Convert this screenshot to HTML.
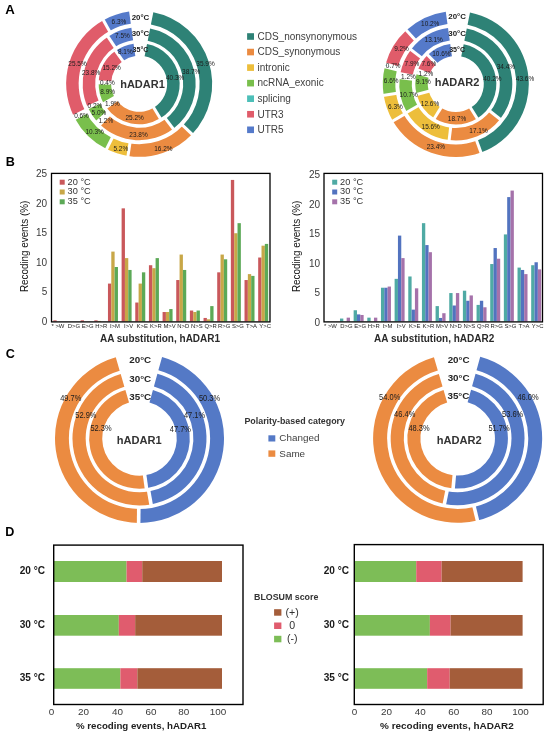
<!DOCTYPE html>
<html><head><meta charset="utf-8"><title>Figure</title>
<style>html,body{margin:0;padding:0;background:#fff;}svg{display:block;}</style></head>
<body><svg width="550" height="736" viewBox="0 0 550 736">
<rect width="550" height="736" fill="#fff"/>
<text x="5.30" y="13.80" font-size="13.2" font-weight="bold" text-anchor="start" fill="#000" font-family="'Liberation Sans', Arial, sans-serif" >A</text>
<text x="5.70" y="166.30" font-size="12.6" font-weight="bold" text-anchor="start" fill="#000" font-family="'Liberation Sans', Arial, sans-serif" >B</text>
<text x="5.80" y="357.90" font-size="12.6" font-weight="bold" text-anchor="start" fill="#000" font-family="'Liberation Sans', Arial, sans-serif" >C</text>
<text x="5.30" y="536.20" font-size="12.6" font-weight="bold" text-anchor="start" fill="#000" font-family="'Liberation Sans', Arial, sans-serif" >D</text>
<path d="M153.33,12.19A73,73 0 0 1 192.03,134.13L182.97,125.51A60.5,60.5 0 0 0 150.90,24.45Z" fill="#2E8276"/>
<path d="M192.03,134.13A73,73 0 0 1 127.97,155.94L129.89,143.59A60.5,60.5 0 0 0 182.97,125.51Z" fill="#EB8B41"/>
<path d="M127.97,155.94A73,73 0 0 1 106.54,149.11L112.12,137.93A60.5,60.5 0 0 0 129.89,143.59Z" fill="#EDBE3B"/>
<path d="M106.54,149.11A73,73 0 0 1 74.91,118.47L85.91,112.53A60.5,60.5 0 0 0 112.12,137.93Z" fill="#79BF4C"/>
<path d="M74.91,118.47A73,73 0 0 1 73.71,116.15L84.92,110.61A60.5,60.5 0 0 0 85.91,112.53Z" fill="#4DBFB8"/>
<path d="M73.71,116.15A73,73 0 0 1 103.34,20.19L109.47,31.08A60.5,60.5 0 0 0 84.92,110.61Z" fill="#E05C6A"/>
<path d="M103.34,20.19A73,73 0 0 1 129.12,11.49L130.83,23.87A60.5,60.5 0 0 0 109.47,31.08Z" fill="#557ACA"/>
<line x1="182.25" y1="124.82" x2="192.75" y2="134.82" stroke="#fff" stroke-width="3.0"/>
<line x1="130.04" y1="142.60" x2="127.82" y2="156.93" stroke="#fff" stroke-width="3.0"/>
<line x1="112.57" y1="137.03" x2="106.09" y2="150.00" stroke="#fff" stroke-width="3.0"/>
<line x1="86.79" y1="112.06" x2="74.03" y2="118.94" stroke="#fff" stroke-width="3.0"/>
<line x1="85.81" y1="110.17" x2="72.81" y2="116.59" stroke="#fff" stroke-width="3.0"/>
<line x1="109.96" y1="31.95" x2="102.85" y2="19.32" stroke="#fff" stroke-width="3.0"/>
<path d="M150.12,28.38A56.5,56.5 0 0 1 173.26,128.84L165.71,118.88A44,44 0 0 0 147.70,40.64Z" fill="#2E8276"/>
<path d="M173.26,128.84A56.5,56.5 0 0 1 100.02,124.55L108.68,115.54A44,44 0 0 0 165.71,118.88Z" fill="#EB8B41"/>
<path d="M97.22,121.66A56.5,56.5 0 0 1 87.97,107.74L99.29,102.44A44,44 0 0 0 106.49,113.29Z" fill="#79BF4C"/>
<path d="M87.97,107.74A56.5,56.5 0 0 1 87.69,107.13L99.08,101.97A44,44 0 0 0 99.29,102.44Z" fill="#4DBFB8"/>
<path d="M87.69,107.13A56.5,56.5 0 0 1 108.03,36.64L114.92,47.07A44,44 0 0 0 99.08,101.97Z" fill="#E05C6A"/>
<path d="M108.03,36.64A56.5,56.5 0 0 1 131.38,27.84L133.10,40.22A44,44 0 0 0 114.92,47.07Z" fill="#557ACA"/>
<line x1="165.11" y1="118.08" x2="173.86" y2="129.64" stroke="#fff" stroke-width="3.0"/>
<line x1="109.37" y1="114.82" x2="99.32" y2="125.28" stroke="#fff" stroke-width="3.0"/>
<line x1="107.24" y1="112.62" x2="96.47" y2="122.33" stroke="#fff" stroke-width="3.0"/>
<line x1="100.20" y1="102.02" x2="87.07" y2="108.16" stroke="#fff" stroke-width="3.0"/>
<line x1="99.99" y1="101.56" x2="86.78" y2="107.54" stroke="#fff" stroke-width="3.0"/>
<line x1="115.47" y1="47.91" x2="107.48" y2="35.81" stroke="#fff" stroke-width="3.0"/>
<path d="M147.02,44.07A40.5,40.5 0 0 1 160.26,118.36L153.75,107.70A28,28 0 0 0 144.59,56.33Z" fill="#2E8276"/>
<path d="M160.26,118.36A40.5,40.5 0 0 1 106.18,107.32L116.36,100.06A28,28 0 0 0 153.75,107.70Z" fill="#EB8B41"/>
<path d="M103.74,103.46A40.5,40.5 0 0 1 98.66,82.88L111.16,83.16A28,28 0 0 0 114.67,97.39Z" fill="#79BF4C"/>
<path d="M98.66,82.88A40.5,40.5 0 0 1 98.69,81.91L111.18,82.50A28,28 0 0 0 111.16,83.16Z" fill="#4DBFB8"/>
<path d="M98.69,81.91A40.5,40.5 0 0 1 115.62,50.83L122.89,61.01A28,28 0 0 0 111.18,82.50Z" fill="#E05C6A"/>
<path d="M115.62,50.83A40.5,40.5 0 0 1 133.58,43.68L135.30,56.07A28,28 0 0 0 122.89,61.01Z" fill="#557ACA"/>
<line x1="153.22" y1="106.84" x2="160.78" y2="119.22" stroke="#fff" stroke-width="3.0"/>
<line x1="117.17" y1="99.48" x2="105.37" y2="107.91" stroke="#fff" stroke-width="3.0"/>
<line x1="115.54" y1="96.90" x2="102.87" y2="103.94" stroke="#fff" stroke-width="3.0"/>
<line x1="112.16" y1="83.18" x2="97.66" y2="82.85" stroke="#fff" stroke-width="3.0"/>
<line x1="112.18" y1="82.54" x2="97.70" y2="81.87" stroke="#fff" stroke-width="3.0"/>
<line x1="123.47" y1="61.82" x2="115.04" y2="50.02" stroke="#fff" stroke-width="3.0"/>
<text transform="translate(205.50,65.90) scale(0.85,1)" font-size="7.6" font-weight="normal" text-anchor="middle" fill="#1c1c1c" font-family="'Liberation Sans', Arial, sans-serif">35.9%</text>
<text transform="translate(163.30,151.20) scale(0.85,1)" font-size="7.6" font-weight="normal" text-anchor="middle" fill="#1c1c1c" font-family="'Liberation Sans', Arial, sans-serif">16.2%</text>
<text transform="translate(120.80,150.50) scale(0.85,1)" font-size="7.6" font-weight="normal" text-anchor="middle" fill="#1c1c1c" font-family="'Liberation Sans', Arial, sans-serif">5.2%</text>
<text transform="translate(94.60,134.10) scale(0.85,1)" font-size="7.6" font-weight="normal" text-anchor="middle" fill="#1c1c1c" font-family="'Liberation Sans', Arial, sans-serif">10.3%</text>
<text transform="translate(81.50,117.70) scale(0.85,1)" font-size="7.6" font-weight="normal" text-anchor="middle" fill="#1c1c1c" font-family="'Liberation Sans', Arial, sans-serif">0.6%</text>
<text transform="translate(77.50,66.30) scale(0.85,1)" font-size="7.6" font-weight="normal" text-anchor="middle" fill="#1c1c1c" font-family="'Liberation Sans', Arial, sans-serif">25.5%</text>
<text transform="translate(118.90,23.50) scale(0.85,1)" font-size="7.6" font-weight="normal" text-anchor="middle" fill="#1c1c1c" font-family="'Liberation Sans', Arial, sans-serif">6.3%</text>
<text transform="translate(191.20,74.00) scale(0.85,1)" font-size="7.6" font-weight="normal" text-anchor="middle" fill="#1c1c1c" font-family="'Liberation Sans', Arial, sans-serif">38.7%</text>
<text transform="translate(138.50,137.10) scale(0.85,1)" font-size="7.6" font-weight="normal" text-anchor="middle" fill="#1c1c1c" font-family="'Liberation Sans', Arial, sans-serif">23.8%</text>
<text transform="translate(105.80,122.90) scale(0.85,1)" font-size="7.6" font-weight="normal" text-anchor="middle" fill="#1c1c1c" font-family="'Liberation Sans', Arial, sans-serif">1.2%</text>
<text transform="translate(98.90,114.90) scale(0.85,1)" font-size="7.6" font-weight="normal" text-anchor="middle" fill="#1c1c1c" font-family="'Liberation Sans', Arial, sans-serif">5.0%</text>
<text transform="translate(94.90,108.00) scale(0.85,1)" font-size="7.6" font-weight="normal" text-anchor="middle" fill="#1c1c1c" font-family="'Liberation Sans', Arial, sans-serif">0.2%</text>
<text transform="translate(91.10,74.70) scale(0.85,1)" font-size="7.6" font-weight="normal" text-anchor="middle" fill="#1c1c1c" font-family="'Liberation Sans', Arial, sans-serif">23.8%</text>
<text transform="translate(122.40,38.20) scale(0.85,1)" font-size="7.6" font-weight="normal" text-anchor="middle" fill="#1c1c1c" font-family="'Liberation Sans', Arial, sans-serif">7.5%</text>
<text transform="translate(175.10,79.50) scale(0.85,1)" font-size="7.6" font-weight="normal" text-anchor="middle" fill="#1c1c1c" font-family="'Liberation Sans', Arial, sans-serif">40.3%</text>
<text transform="translate(134.60,120.30) scale(0.85,1)" font-size="7.6" font-weight="normal" text-anchor="middle" fill="#1c1c1c" font-family="'Liberation Sans', Arial, sans-serif">25.2%</text>
<text transform="translate(112.40,105.80) scale(0.85,1)" font-size="7.6" font-weight="normal" text-anchor="middle" fill="#1c1c1c" font-family="'Liberation Sans', Arial, sans-serif">1.9%</text>
<text transform="translate(107.60,94.00) scale(0.85,1)" font-size="7.6" font-weight="normal" text-anchor="middle" fill="#1c1c1c" font-family="'Liberation Sans', Arial, sans-serif">8.9%</text>
<text transform="translate(107.30,85.40) scale(0.85,1)" font-size="7.6" font-weight="normal" text-anchor="middle" fill="#1c1c1c" font-family="'Liberation Sans', Arial, sans-serif">0.4%</text>
<text transform="translate(111.60,70.00) scale(0.85,1)" font-size="7.6" font-weight="normal" text-anchor="middle" fill="#1c1c1c" font-family="'Liberation Sans', Arial, sans-serif">15.2%</text>
<text transform="translate(125.30,54.40) scale(0.85,1)" font-size="7.6" font-weight="normal" text-anchor="middle" fill="#1c1c1c" font-family="'Liberation Sans', Arial, sans-serif">8.1%</text>
<text x="142.50" y="87.60" font-size="11" font-weight="bold" text-anchor="middle" fill="#333" font-family="'Liberation Sans', Arial, sans-serif" >hADAR1</text>
<text x="140.45" y="19.70" font-size="7.9" font-weight="bold" text-anchor="middle" fill="#222" font-family="'Liberation Sans', Arial, sans-serif" >20°C</text>
<text x="140.45" y="36.10" font-size="7.9" font-weight="bold" text-anchor="middle" fill="#222" font-family="'Liberation Sans', Arial, sans-serif" >30°C</text>
<text x="140.45" y="51.90" font-size="7.1" font-weight="bold" text-anchor="middle" fill="#222" font-family="'Liberation Sans', Arial, sans-serif" >35°C</text>
<path d="M469.98,12.39A73,73 0 0 1 480.97,152.52L476.66,140.79A60.5,60.5 0 0 0 467.55,24.65Z" fill="#2E8276"/>
<path d="M480.97,152.52A73,73 0 0 1 392.83,120.94L403.62,114.61A60.5,60.5 0 0 0 476.66,140.79Z" fill="#EB8B41"/>
<path d="M392.83,120.94A73,73 0 0 1 383.68,95.32L396.03,93.38A60.5,60.5 0 0 0 403.62,114.61Z" fill="#EDBE3B"/>
<path d="M383.68,95.32A73,73 0 0 1 384.84,66.86L396.99,69.80A60.5,60.5 0 0 0 396.03,93.38Z" fill="#79BF4C"/>
<path d="M384.84,66.86A73,73 0 0 1 385.62,63.92L397.63,67.36A60.5,60.5 0 0 0 396.99,69.80Z" fill="#4DBFB8"/>
<path d="M385.62,63.92A73,73 0 0 1 406.32,30.33L414.79,39.52A60.5,60.5 0 0 0 397.63,67.36Z" fill="#E05C6A"/>
<path d="M406.32,30.33A73,73 0 0 1 445.77,11.69L447.48,24.07A60.5,60.5 0 0 0 414.79,39.52Z" fill="#557ACA"/>
<line x1="476.31" y1="139.85" x2="481.31" y2="153.46" stroke="#fff" stroke-width="3.0"/>
<line x1="404.48" y1="114.11" x2="391.97" y2="121.44" stroke="#fff" stroke-width="3.0"/>
<line x1="397.02" y1="93.23" x2="382.70" y2="95.47" stroke="#fff" stroke-width="3.0"/>
<line x1="397.96" y1="70.03" x2="383.87" y2="66.63" stroke="#fff" stroke-width="3.0"/>
<line x1="398.60" y1="67.63" x2="384.65" y2="63.65" stroke="#fff" stroke-width="3.0"/>
<line x1="415.47" y1="40.25" x2="405.64" y2="29.59" stroke="#fff" stroke-width="3.0"/>
<path d="M466.77,28.58A56.5,56.5 0 0 1 500.04,119.15L490.25,111.37A44,44 0 0 0 464.35,40.84Z" fill="#2E8276"/>
<path d="M500.04,119.15A56.5,56.5 0 0 1 449.15,140.11L450.62,127.69A44,44 0 0 0 490.25,111.37Z" fill="#EB8B41"/>
<path d="M449.15,140.11A56.5,56.5 0 0 1 406.90,112.30L417.72,106.04A44,44 0 0 0 450.62,127.69Z" fill="#EDBE3B"/>
<path d="M406.90,112.30A56.5,56.5 0 0 1 399.65,77.68L412.08,79.08A44,44 0 0 0 417.72,106.04Z" fill="#79BF4C"/>
<path d="M400.25,73.69A56.5,56.5 0 0 1 410.94,49.65L420.87,57.25A44,44 0 0 0 412.54,75.97Z" fill="#E05C6A"/>
<path d="M410.94,49.65A56.5,56.5 0 0 1 448.03,28.04L449.75,40.42A44,44 0 0 0 420.87,57.25Z" fill="#557ACA"/>
<line x1="489.47" y1="110.75" x2="500.82" y2="119.77" stroke="#fff" stroke-width="3.0"/>
<line x1="450.74" y1="126.70" x2="449.03" y2="141.10" stroke="#fff" stroke-width="3.0"/>
<line x1="418.58" y1="105.54" x2="406.03" y2="112.80" stroke="#fff" stroke-width="3.0"/>
<line x1="413.07" y1="79.19" x2="398.66" y2="77.57" stroke="#fff" stroke-width="3.0"/>
<line x1="413.52" y1="76.16" x2="399.26" y2="73.51" stroke="#fff" stroke-width="3.0"/>
<line x1="421.66" y1="57.86" x2="410.15" y2="49.04" stroke="#fff" stroke-width="3.0"/>
<path d="M463.67,44.27A40.5,40.5 0 0 1 477.12,118.44L470.54,107.81A28,28 0 0 0 461.24,56.53Z" fill="#2E8276"/>
<path d="M477.12,118.44A40.5,40.5 0 0 1 434.34,118.35L440.97,107.75A28,28 0 0 0 470.54,107.81Z" fill="#EB8B41"/>
<path d="M434.34,118.35A40.5,40.5 0 0 1 416.69,94.52L428.76,91.27A28,28 0 0 0 440.97,107.75Z" fill="#EDBE3B"/>
<path d="M416.69,94.52A40.5,40.5 0 0 1 416.86,72.86L428.88,76.30A28,28 0 0 0 428.76,91.27Z" fill="#79BF4C"/>
<path d="M416.86,72.86A40.5,40.5 0 0 1 417.76,70.11L429.50,74.40A28,28 0 0 0 428.88,76.30Z" fill="#4DBFB8"/>
<path d="M417.76,70.11A40.5,40.5 0 0 1 427.65,54.88L436.34,63.87A28,28 0 0 0 429.50,74.40Z" fill="#E05C6A"/>
<path d="M427.65,54.88A40.5,40.5 0 0 1 450.23,43.88L451.95,56.27A28,28 0 0 0 436.34,63.87Z" fill="#557ACA"/>
<line x1="470.01" y1="106.96" x2="477.64" y2="119.29" stroke="#fff" stroke-width="3.0"/>
<line x1="441.50" y1="106.90" x2="433.81" y2="119.20" stroke="#fff" stroke-width="3.0"/>
<line x1="429.73" y1="91.01" x2="415.72" y2="94.78" stroke="#fff" stroke-width="3.0"/>
<line x1="429.84" y1="76.57" x2="415.90" y2="72.59" stroke="#fff" stroke-width="3.0"/>
<line x1="430.44" y1="74.74" x2="416.82" y2="69.77" stroke="#fff" stroke-width="3.0"/>
<line x1="437.03" y1="64.59" x2="426.95" y2="54.17" stroke="#fff" stroke-width="3.0"/>
<text transform="translate(525.00,80.70) scale(0.85,1)" font-size="7.6" font-weight="normal" text-anchor="middle" fill="#1c1c1c" font-family="'Liberation Sans', Arial, sans-serif">43.6%</text>
<text transform="translate(435.80,149.10) scale(0.85,1)" font-size="7.6" font-weight="normal" text-anchor="middle" fill="#1c1c1c" font-family="'Liberation Sans', Arial, sans-serif">23.4%</text>
<text transform="translate(395.40,109.30) scale(0.85,1)" font-size="7.6" font-weight="normal" text-anchor="middle" fill="#1c1c1c" font-family="'Liberation Sans', Arial, sans-serif">6.3%</text>
<text transform="translate(391.20,82.70) scale(0.85,1)" font-size="7.6" font-weight="normal" text-anchor="middle" fill="#1c1c1c" font-family="'Liberation Sans', Arial, sans-serif">6.6%</text>
<text transform="translate(393.20,68.40) scale(0.85,1)" font-size="7.6" font-weight="normal" text-anchor="middle" fill="#1c1c1c" font-family="'Liberation Sans', Arial, sans-serif">0.7%</text>
<text transform="translate(401.50,51.30) scale(0.85,1)" font-size="7.6" font-weight="normal" text-anchor="middle" fill="#1c1c1c" font-family="'Liberation Sans', Arial, sans-serif">9.2%</text>
<text transform="translate(430.20,25.60) scale(0.85,1)" font-size="7.6" font-weight="normal" text-anchor="middle" fill="#1c1c1c" font-family="'Liberation Sans', Arial, sans-serif">10.2%</text>
<text transform="translate(505.90,68.70) scale(0.85,1)" font-size="7.6" font-weight="normal" text-anchor="middle" fill="#1c1c1c" font-family="'Liberation Sans', Arial, sans-serif">34.4%</text>
<text transform="translate(478.50,133.30) scale(0.85,1)" font-size="7.6" font-weight="normal" text-anchor="middle" fill="#1c1c1c" font-family="'Liberation Sans', Arial, sans-serif">17.1%</text>
<text transform="translate(430.70,129.00) scale(0.85,1)" font-size="7.6" font-weight="normal" text-anchor="middle" fill="#1c1c1c" font-family="'Liberation Sans', Arial, sans-serif">15.6%</text>
<text transform="translate(408.70,96.70) scale(0.85,1)" font-size="7.6" font-weight="normal" text-anchor="middle" fill="#1c1c1c" font-family="'Liberation Sans', Arial, sans-serif">10.7%</text>
<text transform="translate(408.40,79.30) scale(0.85,1)" font-size="7.6" font-weight="normal" text-anchor="middle" fill="#1c1c1c" font-family="'Liberation Sans', Arial, sans-serif">1.2%</text>
<text transform="translate(411.90,65.70) scale(0.85,1)" font-size="7.6" font-weight="normal" text-anchor="middle" fill="#1c1c1c" font-family="'Liberation Sans', Arial, sans-serif">7.9%</text>
<text transform="translate(433.70,42.10) scale(0.85,1)" font-size="7.6" font-weight="normal" text-anchor="middle" fill="#1c1c1c" font-family="'Liberation Sans', Arial, sans-serif">13.1%</text>
<text transform="translate(492.40,81.00) scale(0.85,1)" font-size="7.6" font-weight="normal" text-anchor="middle" fill="#1c1c1c" font-family="'Liberation Sans', Arial, sans-serif">40.2%</text>
<text transform="translate(457.00,120.60) scale(0.85,1)" font-size="7.6" font-weight="normal" text-anchor="middle" fill="#1c1c1c" font-family="'Liberation Sans', Arial, sans-serif">18.7%</text>
<text transform="translate(430.00,106.10) scale(0.85,1)" font-size="7.6" font-weight="normal" text-anchor="middle" fill="#1c1c1c" font-family="'Liberation Sans', Arial, sans-serif">12.6%</text>
<text transform="translate(423.40,84.40) scale(0.85,1)" font-size="7.6" font-weight="normal" text-anchor="middle" fill="#1c1c1c" font-family="'Liberation Sans', Arial, sans-serif">9.1%</text>
<text transform="translate(425.90,75.50) scale(0.85,1)" font-size="7.6" font-weight="normal" text-anchor="middle" fill="#1c1c1c" font-family="'Liberation Sans', Arial, sans-serif">1.2%</text>
<text transform="translate(428.80,66.20) scale(0.85,1)" font-size="7.6" font-weight="normal" text-anchor="middle" fill="#1c1c1c" font-family="'Liberation Sans', Arial, sans-serif">7.6%</text>
<text transform="translate(441.40,56.00) scale(0.85,1)" font-size="7.6" font-weight="normal" text-anchor="middle" fill="#1c1c1c" font-family="'Liberation Sans', Arial, sans-serif">10.6%</text>
<text x="457.00" y="86.30" font-size="11" font-weight="bold" text-anchor="middle" fill="#333" font-family="'Liberation Sans', Arial, sans-serif" >hADAR2</text>
<text x="457.10" y="19.40" font-size="7.9" font-weight="bold" text-anchor="middle" fill="#222" font-family="'Liberation Sans', Arial, sans-serif" >20°C</text>
<text x="457.10" y="35.80" font-size="7.9" font-weight="bold" text-anchor="middle" fill="#222" font-family="'Liberation Sans', Arial, sans-serif" >30°C</text>
<text x="457.10" y="51.60" font-size="7.1" font-weight="bold" text-anchor="middle" fill="#222" font-family="'Liberation Sans', Arial, sans-serif" >35°C</text>
<rect x="247.1" y="33.20" width="6.9" height="6.6" fill="#2E8276"/>
<text x="257.50" y="39.80" font-size="10" font-weight="normal" text-anchor="start" fill="#404040" font-family="'Liberation Sans', Arial, sans-serif" >CDS_nonsynonymous</text>
<rect x="247.1" y="48.75" width="6.9" height="6.6" fill="#EB8B41"/>
<text x="257.50" y="55.35" font-size="10" font-weight="normal" text-anchor="start" fill="#404040" font-family="'Liberation Sans', Arial, sans-serif" >CDS_synonymous</text>
<rect x="247.1" y="64.30" width="6.9" height="6.6" fill="#EDBE3B"/>
<text x="257.50" y="70.90" font-size="10" font-weight="normal" text-anchor="start" fill="#404040" font-family="'Liberation Sans', Arial, sans-serif" >intronic</text>
<rect x="247.1" y="79.85" width="6.9" height="6.6" fill="#79BF4C"/>
<text x="257.50" y="86.45" font-size="10" font-weight="normal" text-anchor="start" fill="#404040" font-family="'Liberation Sans', Arial, sans-serif" >ncRNA_exonic</text>
<rect x="247.1" y="95.40" width="6.9" height="6.6" fill="#4DBFB8"/>
<text x="257.50" y="102.00" font-size="10" font-weight="normal" text-anchor="start" fill="#404040" font-family="'Liberation Sans', Arial, sans-serif" >splicing</text>
<rect x="247.1" y="110.95" width="6.9" height="6.6" fill="#E05C6A"/>
<text x="257.50" y="117.55" font-size="10" font-weight="normal" text-anchor="start" fill="#404040" font-family="'Liberation Sans', Arial, sans-serif" >UTR3</text>
<rect x="247.1" y="126.50" width="6.9" height="6.6" fill="#557ACA"/>
<text x="257.50" y="133.10" font-size="10" font-weight="normal" text-anchor="start" fill="#404040" font-family="'Liberation Sans', Arial, sans-serif" >UTR5</text>
<rect x="53.33" y="320.32" width="3.33" height="1.18" fill="#C9585B"/>
<text x="57.93" y="327.90" font-size="5.9" font-weight="normal" text-anchor="middle" fill="#222" font-family="'Liberation Sans', Arial, sans-serif" >* &gt;W</text>
<text x="73.98" y="327.90" font-size="5.9" font-weight="normal" text-anchor="middle" fill="#222" font-family="'Liberation Sans', Arial, sans-serif" >D&gt;G</text>
<rect x="80.64" y="320.32" width="3.33" height="1.18" fill="#C9585B"/>
<text x="87.64" y="327.90" font-size="5.9" font-weight="normal" text-anchor="middle" fill="#222" font-family="'Liberation Sans', Arial, sans-serif" >E&gt;G</text>
<rect x="94.30" y="320.32" width="3.33" height="1.18" fill="#C9585B"/>
<rect x="97.63" y="320.91" width="3.33" height="0.59" fill="#C8A748"/>
<text x="101.30" y="327.90" font-size="5.9" font-weight="normal" text-anchor="middle" fill="#222" font-family="'Liberation Sans', Arial, sans-serif" >H&gt;R</text>
<rect x="107.96" y="283.59" width="3.33" height="37.91" fill="#C9585B"/>
<rect x="111.29" y="251.60" width="3.33" height="69.90" fill="#C8A748"/>
<rect x="114.62" y="267.00" width="3.33" height="54.50" fill="#5CA957"/>
<text x="114.95" y="327.90" font-size="5.9" font-weight="normal" text-anchor="middle" fill="#222" font-family="'Liberation Sans', Arial, sans-serif" >I&gt;M</text>
<rect x="121.61" y="208.35" width="3.33" height="113.15" fill="#C9585B"/>
<rect x="124.94" y="258.11" width="3.33" height="63.39" fill="#C8A748"/>
<rect x="128.27" y="269.96" width="3.33" height="51.54" fill="#5CA957"/>
<text x="128.61" y="327.90" font-size="5.9" font-weight="normal" text-anchor="middle" fill="#222" font-family="'Liberation Sans', Arial, sans-serif" >I&gt;V</text>
<rect x="135.27" y="302.54" width="3.33" height="18.96" fill="#C9585B"/>
<rect x="138.60" y="283.59" width="3.33" height="37.91" fill="#C8A748"/>
<rect x="141.93" y="272.33" width="3.33" height="49.17" fill="#5CA957"/>
<text x="142.27" y="327.90" font-size="5.9" font-weight="normal" text-anchor="middle" fill="#222" font-family="'Liberation Sans', Arial, sans-serif" >K&gt;E</text>
<rect x="148.93" y="265.22" width="3.33" height="56.28" fill="#C9585B"/>
<rect x="152.26" y="268.18" width="3.33" height="53.32" fill="#C8A748"/>
<rect x="155.59" y="258.11" width="3.33" height="63.39" fill="#5CA957"/>
<text x="155.92" y="327.90" font-size="5.9" font-weight="normal" text-anchor="middle" fill="#222" font-family="'Liberation Sans', Arial, sans-serif" >K&gt;R</text>
<rect x="162.58" y="312.02" width="3.33" height="9.48" fill="#C9585B"/>
<rect x="165.91" y="312.02" width="3.33" height="9.48" fill="#C8A748"/>
<rect x="169.24" y="309.06" width="3.33" height="12.44" fill="#5CA957"/>
<text x="169.58" y="327.90" font-size="5.9" font-weight="normal" text-anchor="middle" fill="#222" font-family="'Liberation Sans', Arial, sans-serif" >M&gt;V</text>
<rect x="176.24" y="280.03" width="3.33" height="41.47" fill="#C9585B"/>
<rect x="179.57" y="254.56" width="3.33" height="66.94" fill="#C8A748"/>
<rect x="182.90" y="269.96" width="3.33" height="51.54" fill="#5CA957"/>
<text x="183.23" y="327.90" font-size="5.9" font-weight="normal" text-anchor="middle" fill="#222" font-family="'Liberation Sans', Arial, sans-serif" >N&gt;D</text>
<rect x="189.89" y="310.54" width="3.33" height="10.96" fill="#C9585B"/>
<rect x="193.23" y="312.02" width="3.33" height="9.48" fill="#C8A748"/>
<rect x="196.56" y="310.54" width="3.33" height="10.96" fill="#5CA957"/>
<text x="196.89" y="327.90" font-size="5.9" font-weight="normal" text-anchor="middle" fill="#222" font-family="'Liberation Sans', Arial, sans-serif" >N&gt;S</text>
<rect x="203.55" y="317.95" width="3.33" height="3.55" fill="#C9585B"/>
<rect x="206.88" y="319.31" width="3.33" height="2.19" fill="#C8A748"/>
<rect x="210.21" y="306.10" width="3.33" height="15.40" fill="#5CA957"/>
<text x="210.55" y="327.90" font-size="5.9" font-weight="normal" text-anchor="middle" fill="#222" font-family="'Liberation Sans', Arial, sans-serif" >Q&gt;R</text>
<rect x="217.21" y="272.33" width="3.33" height="49.17" fill="#C9585B"/>
<rect x="220.54" y="254.56" width="3.33" height="66.94" fill="#C8A748"/>
<rect x="223.87" y="259.30" width="3.33" height="62.20" fill="#5CA957"/>
<text x="224.20" y="327.90" font-size="5.9" font-weight="normal" text-anchor="middle" fill="#222" font-family="'Liberation Sans', Arial, sans-serif" >R&gt;G</text>
<rect x="230.86" y="179.92" width="3.33" height="141.58" fill="#C9585B"/>
<rect x="234.19" y="233.23" width="3.33" height="88.27" fill="#C8A748"/>
<rect x="237.52" y="223.16" width="3.33" height="98.34" fill="#5CA957"/>
<text x="237.86" y="327.90" font-size="5.9" font-weight="normal" text-anchor="middle" fill="#222" font-family="'Liberation Sans', Arial, sans-serif" >S&gt;G</text>
<rect x="244.52" y="280.03" width="3.33" height="41.47" fill="#C9585B"/>
<rect x="247.85" y="274.11" width="3.33" height="47.39" fill="#C8A748"/>
<rect x="251.18" y="275.89" width="3.33" height="45.61" fill="#5CA957"/>
<text x="251.52" y="327.90" font-size="5.9" font-weight="normal" text-anchor="middle" fill="#222" font-family="'Liberation Sans', Arial, sans-serif" >T&gt;A</text>
<rect x="258.18" y="257.52" width="3.33" height="63.98" fill="#C9585B"/>
<rect x="261.51" y="245.67" width="3.33" height="75.83" fill="#C8A748"/>
<rect x="264.84" y="243.90" width="3.33" height="77.60" fill="#5CA957"/>
<text x="265.17" y="327.90" font-size="5.9" font-weight="normal" text-anchor="middle" fill="#222" font-family="'Liberation Sans', Arial, sans-serif" >Y&gt;C</text>
<rect x="51.50" y="173.40" width="218.50" height="148.50" fill="none" stroke="#000" stroke-width="1.3"/>
<text x="47.20" y="325.10" font-size="10" font-weight="normal" text-anchor="end" fill="#3a3a3a" font-family="'Liberation Sans', Arial, sans-serif" >0</text>
<text x="47.20" y="295.48" font-size="10" font-weight="normal" text-anchor="end" fill="#3a3a3a" font-family="'Liberation Sans', Arial, sans-serif" >5</text>
<text x="47.20" y="265.86" font-size="10" font-weight="normal" text-anchor="end" fill="#3a3a3a" font-family="'Liberation Sans', Arial, sans-serif" >10</text>
<text x="47.20" y="236.24" font-size="10" font-weight="normal" text-anchor="end" fill="#3a3a3a" font-family="'Liberation Sans', Arial, sans-serif" >15</text>
<text x="47.20" y="206.62" font-size="10" font-weight="normal" text-anchor="end" fill="#3a3a3a" font-family="'Liberation Sans', Arial, sans-serif" >20</text>
<text x="47.20" y="177.00" font-size="10" font-weight="normal" text-anchor="end" fill="#3a3a3a" font-family="'Liberation Sans', Arial, sans-serif" >25</text>
<text x="160.00" y="341.60" font-size="10" font-weight="bold" text-anchor="middle" fill="#2a2a2a" font-family="'Liberation Sans', Arial, sans-serif" >AA substitution, hADAR1</text>
<text x="0.00" y="0.00" font-size="10.6" font-weight="normal" text-anchor="middle" fill="#111" font-family="'Liberation Sans', Arial, sans-serif" textLength="91.4" lengthAdjust="spacingAndGlyphs" transform="translate(28.20,246.4) rotate(-90)">Recoding events (%)</text>
<rect x="59.70" y="179.70" width="5" height="5" fill="#C9585B"/>
<text transform="translate(67.60,184.50) scale(0.95,1)" font-size="9.7" fill="#333" font-family="'Liberation Sans', Arial, sans-serif">20 °C</text>
<rect x="59.70" y="189.50" width="5" height="5" fill="#C8A748"/>
<text transform="translate(67.60,194.30) scale(0.95,1)" font-size="9.7" fill="#333" font-family="'Liberation Sans', Arial, sans-serif">30 °C</text>
<rect x="59.70" y="199.30" width="5" height="5" fill="#5CA957"/>
<text transform="translate(67.60,204.10) scale(0.95,1)" font-size="9.7" fill="#333" font-family="'Liberation Sans', Arial, sans-serif">35 °C</text>
<rect x="326.33" y="321.20" width="3.33" height="0.30" fill="#4FAAA4"/>
<text x="330.43" y="327.90" font-size="5.9" font-weight="normal" text-anchor="middle" fill="#222" font-family="'Liberation Sans', Arial, sans-serif" >* &gt;W</text>
<rect x="339.99" y="318.54" width="3.33" height="2.96" fill="#4FAAA4"/>
<rect x="346.65" y="317.65" width="3.33" height="3.85" fill="#A572AA"/>
<text x="346.48" y="327.90" font-size="5.9" font-weight="normal" text-anchor="middle" fill="#222" font-family="'Liberation Sans', Arial, sans-serif" >D&gt;G</text>
<rect x="353.64" y="310.24" width="3.33" height="11.26" fill="#4FAAA4"/>
<rect x="356.98" y="314.39" width="3.33" height="7.11" fill="#5273BF"/>
<rect x="360.31" y="314.98" width="3.33" height="6.52" fill="#A572AA"/>
<text x="360.14" y="327.90" font-size="5.9" font-weight="normal" text-anchor="middle" fill="#222" font-family="'Liberation Sans', Arial, sans-serif" >E&gt;G</text>
<rect x="367.30" y="317.65" width="3.33" height="3.85" fill="#4FAAA4"/>
<rect x="373.96" y="317.65" width="3.33" height="3.85" fill="#A572AA"/>
<text x="373.80" y="327.90" font-size="5.9" font-weight="normal" text-anchor="middle" fill="#222" font-family="'Liberation Sans', Arial, sans-serif" >H&gt;R</text>
<rect x="380.96" y="287.73" width="3.33" height="33.77" fill="#4FAAA4"/>
<rect x="384.29" y="287.73" width="3.33" height="33.77" fill="#5273BF"/>
<rect x="387.62" y="286.55" width="3.33" height="34.95" fill="#A572AA"/>
<text x="387.45" y="327.90" font-size="5.9" font-weight="normal" text-anchor="middle" fill="#222" font-family="'Liberation Sans', Arial, sans-serif" >I&gt;M</text>
<rect x="394.61" y="278.85" width="3.33" height="42.65" fill="#4FAAA4"/>
<rect x="397.94" y="235.60" width="3.33" height="85.90" fill="#5273BF"/>
<rect x="401.27" y="258.11" width="3.33" height="63.39" fill="#A572AA"/>
<text x="401.11" y="327.90" font-size="5.9" font-weight="normal" text-anchor="middle" fill="#222" font-family="'Liberation Sans', Arial, sans-serif" >I&gt;V</text>
<rect x="408.27" y="276.48" width="3.33" height="45.02" fill="#4FAAA4"/>
<rect x="411.60" y="309.65" width="3.33" height="11.85" fill="#5273BF"/>
<rect x="414.93" y="288.33" width="3.33" height="33.17" fill="#A572AA"/>
<text x="414.77" y="327.90" font-size="5.9" font-weight="normal" text-anchor="middle" fill="#222" font-family="'Liberation Sans', Arial, sans-serif" >K&gt;E</text>
<rect x="421.93" y="223.16" width="3.33" height="98.34" fill="#4FAAA4"/>
<rect x="425.26" y="245.08" width="3.33" height="76.42" fill="#5273BF"/>
<rect x="428.59" y="252.19" width="3.33" height="69.31" fill="#A572AA"/>
<text x="428.42" y="327.90" font-size="5.9" font-weight="normal" text-anchor="middle" fill="#222" font-family="'Liberation Sans', Arial, sans-serif" >K&gt;R</text>
<rect x="435.58" y="306.10" width="3.33" height="15.40" fill="#4FAAA4"/>
<rect x="438.91" y="317.95" width="3.33" height="3.55" fill="#5273BF"/>
<rect x="442.24" y="313.21" width="3.33" height="8.29" fill="#A572AA"/>
<text x="442.08" y="327.90" font-size="5.9" font-weight="normal" text-anchor="middle" fill="#222" font-family="'Liberation Sans', Arial, sans-serif" >M&gt;V</text>
<rect x="449.24" y="293.06" width="3.33" height="28.44" fill="#4FAAA4"/>
<rect x="452.57" y="305.51" width="3.33" height="15.99" fill="#5273BF"/>
<rect x="455.90" y="293.06" width="3.33" height="28.44" fill="#A572AA"/>
<text x="455.73" y="327.90" font-size="5.9" font-weight="normal" text-anchor="middle" fill="#222" font-family="'Liberation Sans', Arial, sans-serif" >N&gt;D</text>
<rect x="462.89" y="290.70" width="3.33" height="30.80" fill="#4FAAA4"/>
<rect x="466.23" y="300.77" width="3.33" height="20.73" fill="#5273BF"/>
<rect x="469.56" y="295.43" width="3.33" height="26.07" fill="#A572AA"/>
<text x="469.39" y="327.90" font-size="5.9" font-weight="normal" text-anchor="middle" fill="#222" font-family="'Liberation Sans', Arial, sans-serif" >N&gt;S</text>
<rect x="476.55" y="304.91" width="3.33" height="16.59" fill="#4FAAA4"/>
<rect x="479.88" y="300.77" width="3.33" height="20.73" fill="#5273BF"/>
<rect x="483.21" y="307.28" width="3.33" height="14.22" fill="#A572AA"/>
<text x="483.05" y="327.90" font-size="5.9" font-weight="normal" text-anchor="middle" fill="#222" font-family="'Liberation Sans', Arial, sans-serif" >Q&gt;R</text>
<rect x="490.21" y="264.04" width="3.33" height="57.46" fill="#4FAAA4"/>
<rect x="493.54" y="248.04" width="3.33" height="73.46" fill="#5273BF"/>
<rect x="496.87" y="258.71" width="3.33" height="62.79" fill="#A572AA"/>
<text x="496.70" y="327.90" font-size="5.9" font-weight="normal" text-anchor="middle" fill="#222" font-family="'Liberation Sans', Arial, sans-serif" >R&gt;G</text>
<rect x="503.86" y="234.42" width="3.33" height="87.08" fill="#4FAAA4"/>
<rect x="507.19" y="197.10" width="3.33" height="124.40" fill="#5273BF"/>
<rect x="510.52" y="190.58" width="3.33" height="130.92" fill="#A572AA"/>
<text x="510.36" y="327.90" font-size="5.9" font-weight="normal" text-anchor="middle" fill="#222" font-family="'Liberation Sans', Arial, sans-serif" >S&gt;G</text>
<rect x="517.52" y="267.59" width="3.33" height="53.91" fill="#4FAAA4"/>
<rect x="520.85" y="269.96" width="3.33" height="51.54" fill="#5273BF"/>
<rect x="524.18" y="274.11" width="3.33" height="47.39" fill="#A572AA"/>
<text x="524.02" y="327.90" font-size="5.9" font-weight="normal" text-anchor="middle" fill="#222" font-family="'Liberation Sans', Arial, sans-serif" >T&gt;A</text>
<rect x="531.18" y="265.22" width="3.33" height="56.28" fill="#4FAAA4"/>
<rect x="534.51" y="262.26" width="3.33" height="59.24" fill="#5273BF"/>
<rect x="537.84" y="269.37" width="3.33" height="52.13" fill="#A572AA"/>
<text x="537.67" y="327.90" font-size="5.9" font-weight="normal" text-anchor="middle" fill="#222" font-family="'Liberation Sans', Arial, sans-serif" >Y&gt;C</text>
<rect x="324.00" y="173.40" width="218.50" height="148.50" fill="none" stroke="#000" stroke-width="1.3"/>
<text x="320.00" y="326.00" font-size="10" font-weight="normal" text-anchor="end" fill="#3a3a3a" font-family="'Liberation Sans', Arial, sans-serif" >0</text>
<text x="320.00" y="296.38" font-size="10" font-weight="normal" text-anchor="end" fill="#3a3a3a" font-family="'Liberation Sans', Arial, sans-serif" >5</text>
<text x="320.00" y="266.76" font-size="10" font-weight="normal" text-anchor="end" fill="#3a3a3a" font-family="'Liberation Sans', Arial, sans-serif" >10</text>
<text x="320.00" y="237.14" font-size="10" font-weight="normal" text-anchor="end" fill="#3a3a3a" font-family="'Liberation Sans', Arial, sans-serif" >15</text>
<text x="320.00" y="207.52" font-size="10" font-weight="normal" text-anchor="end" fill="#3a3a3a" font-family="'Liberation Sans', Arial, sans-serif" >20</text>
<text x="320.00" y="177.90" font-size="10" font-weight="normal" text-anchor="end" fill="#3a3a3a" font-family="'Liberation Sans', Arial, sans-serif" >25</text>
<text x="434.20" y="341.60" font-size="10" font-weight="bold" text-anchor="middle" fill="#2a2a2a" font-family="'Liberation Sans', Arial, sans-serif" >AA substitution, hADAR2</text>
<text x="0.00" y="0.00" font-size="10.6" font-weight="normal" text-anchor="middle" fill="#111" font-family="'Liberation Sans', Arial, sans-serif" textLength="91.4" lengthAdjust="spacingAndGlyphs" transform="translate(299.70,246.4) rotate(-90)">Recoding events (%)</text>
<rect x="332.20" y="179.70" width="5" height="5" fill="#4FAAA4"/>
<text transform="translate(340.10,184.50) scale(0.95,1)" font-size="9.7" fill="#333" font-family="'Liberation Sans', Arial, sans-serif">20 °C</text>
<rect x="332.20" y="189.50" width="5" height="5" fill="#5273BF"/>
<text transform="translate(340.10,194.30) scale(0.95,1)" font-size="9.7" fill="#333" font-family="'Liberation Sans', Arial, sans-serif">30 °C</text>
<rect x="332.20" y="199.30" width="5" height="5" fill="#A572AA"/>
<text transform="translate(340.10,204.10) scale(0.95,1)" font-size="9.7" fill="#333" font-family="'Liberation Sans', Arial, sans-serif">35 °C</text>
<path d="M162.08,356.97A84.5,84.5 0 0 1 138.64,522.90L138.78,509.00A70.6,70.6 0 0 0 158.37,370.37Z" fill="#5479C6"/>
<path d="M138.64,522.90A84.5,84.5 0 0 1 115.78,357.30L119.68,370.64A70.6,70.6 0 0 0 138.78,509.00Z" fill="#EB8B41"/>
<line x1="138.79" y1="508.00" x2="138.63" y2="523.90" stroke="#fff" stroke-width="3.6"/>
<path d="M157.40,373.84A67.0,67.0 0 0 1 151.04,504.40L148.78,491.49A53.9,53.9 0 0 0 153.90,386.46Z" fill="#5479C6"/>
<path d="M151.04,504.40A67.0,67.0 0 0 1 120.70,374.09L124.37,386.67A53.9,53.9 0 0 0 148.78,491.49Z" fill="#EB8B41"/>
<line x1="148.61" y1="490.51" x2="151.21" y2="505.38" stroke="#fff" stroke-width="3.6"/>
<path d="M152.94,389.93A50.3,50.3 0 0 1 146.46,488.22L144.66,475.34A37.3,37.3 0 0 0 149.47,402.46Z" fill="#5479C6"/>
<path d="M146.46,488.22A50.3,50.3 0 0 1 125.38,390.12L129.03,402.60A37.3,37.3 0 0 0 144.66,475.34Z" fill="#EB8B41"/>
<line x1="144.52" y1="474.35" x2="146.59" y2="489.21" stroke="#fff" stroke-width="3.6"/>
<text transform="translate(70.80,400.90) scale(0.83,1)" font-size="9.0" font-weight="normal" text-anchor="middle" fill="#1c1c1c" font-family="'Liberation Sans', Arial, sans-serif">49.7%</text>
<text transform="translate(85.90,417.70) scale(0.83,1)" font-size="9.0" font-weight="normal" text-anchor="middle" fill="#1c1c1c" font-family="'Liberation Sans', Arial, sans-serif">52.9%</text>
<text transform="translate(101.00,431.40) scale(0.83,1)" font-size="9.0" font-weight="normal" text-anchor="middle" fill="#1c1c1c" font-family="'Liberation Sans', Arial, sans-serif">52.3%</text>
<text transform="translate(209.50,400.90) scale(0.83,1)" font-size="9.0" font-weight="normal" text-anchor="middle" fill="#1c1c1c" font-family="'Liberation Sans', Arial, sans-serif">50.3%</text>
<text transform="translate(194.50,418.00) scale(0.83,1)" font-size="9.0" font-weight="normal" text-anchor="middle" fill="#1c1c1c" font-family="'Liberation Sans', Arial, sans-serif">47.1%</text>
<text transform="translate(180.40,431.60) scale(0.83,1)" font-size="9.0" font-weight="normal" text-anchor="middle" fill="#1c1c1c" font-family="'Liberation Sans', Arial, sans-serif">47.7%</text>
<text x="139.20" y="444.10" font-size="11.1" font-weight="bold" text-anchor="middle" fill="#333" font-family="'Liberation Sans', Arial, sans-serif" >hADAR1</text>
<text x="140.20" y="363.20" font-size="9.8" font-weight="bold" text-anchor="middle" fill="#262626" font-family="'Liberation Sans', Arial, sans-serif" >20°C</text>
<text x="140.20" y="381.80" font-size="9.8" font-weight="bold" text-anchor="middle" fill="#262626" font-family="'Liberation Sans', Arial, sans-serif" >30°C</text>
<text x="140.20" y="399.50" font-size="9.8" font-weight="bold" text-anchor="middle" fill="#262626" font-family="'Liberation Sans', Arial, sans-serif" >35°C</text>
<path d="M480.23,356.87A84.5,84.5 0 0 1 477.42,520.46L474.16,506.94A70.6,70.6 0 0 0 476.52,370.27Z" fill="#5479C6"/>
<path d="M477.42,520.46A84.5,84.5 0 0 1 433.93,357.20L437.83,370.54A70.6,70.6 0 0 0 474.16,506.94Z" fill="#EB8B41"/>
<line x1="473.93" y1="505.97" x2="477.65" y2="521.43" stroke="#fff" stroke-width="3.6"/>
<path d="M475.55,373.74A67.0,67.0 0 0 1 444.39,503.97L446.98,491.13A53.9,53.9 0 0 0 472.05,386.36Z" fill="#5479C6"/>
<path d="M444.39,503.97A67.0,67.0 0 0 1 438.85,373.99L442.52,386.57A53.9,53.9 0 0 0 446.98,491.13Z" fill="#EB8B41"/>
<line x1="447.18" y1="490.15" x2="444.19" y2="504.95" stroke="#fff" stroke-width="3.6"/>
<path d="M471.09,389.83A50.3,50.3 0 0 1 453.11,488.39L454.28,475.45A37.3,37.3 0 0 0 467.62,402.36Z" fill="#5479C6"/>
<path d="M453.11,488.39A50.3,50.3 0 0 1 443.53,390.02L447.18,402.50A37.3,37.3 0 0 0 454.28,475.45Z" fill="#EB8B41"/>
<line x1="454.37" y1="474.45" x2="453.02" y2="489.39" stroke="#fff" stroke-width="3.6"/>
<text transform="translate(389.70,399.90) scale(0.83,1)" font-size="9.0" font-weight="normal" text-anchor="middle" fill="#1c1c1c" font-family="'Liberation Sans', Arial, sans-serif">54.0%</text>
<text transform="translate(404.70,417.20) scale(0.83,1)" font-size="9.0" font-weight="normal" text-anchor="middle" fill="#1c1c1c" font-family="'Liberation Sans', Arial, sans-serif">46.4%</text>
<text transform="translate(419.00,430.70) scale(0.83,1)" font-size="9.0" font-weight="normal" text-anchor="middle" fill="#1c1c1c" font-family="'Liberation Sans', Arial, sans-serif">48.3%</text>
<text transform="translate(528.00,399.90) scale(0.83,1)" font-size="9.0" font-weight="normal" text-anchor="middle" fill="#1c1c1c" font-family="'Liberation Sans', Arial, sans-serif">46.0%</text>
<text transform="translate(512.60,417.20) scale(0.83,1)" font-size="9.0" font-weight="normal" text-anchor="middle" fill="#1c1c1c" font-family="'Liberation Sans', Arial, sans-serif">53.6%</text>
<text transform="translate(499.00,430.70) scale(0.83,1)" font-size="9.0" font-weight="normal" text-anchor="middle" fill="#1c1c1c" font-family="'Liberation Sans', Arial, sans-serif">51.7%</text>
<text x="459.20" y="443.80" font-size="11.1" font-weight="bold" text-anchor="middle" fill="#333" font-family="'Liberation Sans', Arial, sans-serif" >hADAR2</text>
<text x="458.60" y="362.50" font-size="9.8" font-weight="bold" text-anchor="middle" fill="#262626" font-family="'Liberation Sans', Arial, sans-serif" >20°C</text>
<text x="458.60" y="381.00" font-size="9.8" font-weight="bold" text-anchor="middle" fill="#262626" font-family="'Liberation Sans', Arial, sans-serif" >30°C</text>
<text x="458.40" y="399.10" font-size="9.8" font-weight="bold" text-anchor="middle" fill="#262626" font-family="'Liberation Sans', Arial, sans-serif" >35°C</text>
<text x="244.40" y="423.50" font-size="8.9" font-weight="bold" text-anchor="start" fill="#333" font-family="'Liberation Sans', Arial, sans-serif" >Polarity-based category</text>
<rect x="268.4" y="435.3" width="6.9" height="6.2" fill="#5479C6"/>
<text x="279.30" y="441.20" font-size="9.9" font-weight="normal" text-anchor="start" fill="#404040" font-family="'Liberation Sans', Arial, sans-serif" >Changed</text>
<rect x="268.4" y="450.4" width="6.9" height="6.4" fill="#EB8B41"/>
<text x="279.30" y="456.60" font-size="9.9" font-weight="normal" text-anchor="start" fill="#404040" font-family="'Liberation Sans', Arial, sans-serif" >Same</text>
<rect x="53.70" y="561.0" width="72.87" height="21.00" fill="#7DBD57"/>
<rect x="126.57" y="561.0" width="15.65" height="21.00" fill="#E05C6E"/>
<rect x="142.23" y="561.0" width="79.77" height="21.00" fill="#A45D3A"/>
<rect x="53.70" y="615.0" width="65.13" height="20.70" fill="#7DBD57"/>
<rect x="118.83" y="615.0" width="16.33" height="20.70" fill="#E05C6E"/>
<rect x="135.16" y="615.0" width="86.84" height="20.70" fill="#A45D3A"/>
<rect x="53.70" y="668.2" width="66.65" height="20.60" fill="#7DBD57"/>
<rect x="120.35" y="668.2" width="17.00" height="20.60" fill="#E05C6E"/>
<rect x="137.35" y="668.2" width="84.65" height="20.60" fill="#A45D3A"/>
<rect x="53.70" y="545.10" width="189.30" height="159.40" fill="none" stroke="#000" stroke-width="1.4"/>
<text x="45.00" y="574.20" font-size="10.1" font-weight="bold" text-anchor="end" fill="#1a1a1a" font-family="'Liberation Sans', Arial, sans-serif" >20 °C</text>
<text x="45.00" y="628.05" font-size="10.1" font-weight="bold" text-anchor="end" fill="#1a1a1a" font-family="'Liberation Sans', Arial, sans-serif" >30 °C</text>
<text x="45.00" y="681.20" font-size="10.1" font-weight="bold" text-anchor="end" fill="#1a1a1a" font-family="'Liberation Sans', Arial, sans-serif" >35 °C</text>
<text x="51.50" y="715.40" font-size="9.9" font-weight="normal" text-anchor="middle" fill="#3a3a3a" font-family="'Liberation Sans', Arial, sans-serif" >0</text>
<text x="83.60" y="715.40" font-size="9.9" font-weight="normal" text-anchor="middle" fill="#3a3a3a" font-family="'Liberation Sans', Arial, sans-serif" >20</text>
<text x="117.50" y="715.40" font-size="9.9" font-weight="normal" text-anchor="middle" fill="#3a3a3a" font-family="'Liberation Sans', Arial, sans-serif" >40</text>
<text x="151.00" y="715.40" font-size="9.9" font-weight="normal" text-anchor="middle" fill="#3a3a3a" font-family="'Liberation Sans', Arial, sans-serif" >60</text>
<text x="183.80" y="715.40" font-size="9.9" font-weight="normal" text-anchor="middle" fill="#3a3a3a" font-family="'Liberation Sans', Arial, sans-serif" >80</text>
<text x="218.00" y="715.40" font-size="9.9" font-weight="normal" text-anchor="middle" fill="#3a3a3a" font-family="'Liberation Sans', Arial, sans-serif" >100</text>
<text x="141.20" y="728.90" font-size="9.7" font-weight="bold" text-anchor="middle" fill="#222" font-family="'Liberation Sans', Arial, sans-serif" >% recoding events, hADAR1</text>
<rect x="354.30" y="561.0" width="61.93" height="21.00" fill="#7DBD57"/>
<rect x="416.23" y="561.0" width="25.41" height="21.00" fill="#E05C6E"/>
<rect x="441.65" y="561.0" width="80.95" height="21.00" fill="#A45D3A"/>
<rect x="354.30" y="615.0" width="75.57" height="20.70" fill="#7DBD57"/>
<rect x="429.87" y="615.0" width="20.70" height="20.70" fill="#E05C6E"/>
<rect x="450.57" y="615.0" width="72.03" height="20.70" fill="#A45D3A"/>
<rect x="354.30" y="668.2" width="72.87" height="20.60" fill="#7DBD57"/>
<rect x="427.17" y="668.2" width="22.55" height="20.60" fill="#E05C6E"/>
<rect x="449.73" y="668.2" width="72.87" height="20.60" fill="#A45D3A"/>
<rect x="354.30" y="544.60" width="188.90" height="159.90" fill="none" stroke="#000" stroke-width="1.4"/>
<text x="349.10" y="574.20" font-size="10.1" font-weight="bold" text-anchor="end" fill="#1a1a1a" font-family="'Liberation Sans', Arial, sans-serif" >20 °C</text>
<text x="349.10" y="628.05" font-size="10.1" font-weight="bold" text-anchor="end" fill="#1a1a1a" font-family="'Liberation Sans', Arial, sans-serif" >30 °C</text>
<text x="349.10" y="681.20" font-size="10.1" font-weight="bold" text-anchor="end" fill="#1a1a1a" font-family="'Liberation Sans', Arial, sans-serif" >35 °C</text>
<text x="354.50" y="715.40" font-size="9.9" font-weight="normal" text-anchor="middle" fill="#3a3a3a" font-family="'Liberation Sans', Arial, sans-serif" >0</text>
<text x="386.60" y="715.40" font-size="9.9" font-weight="normal" text-anchor="middle" fill="#3a3a3a" font-family="'Liberation Sans', Arial, sans-serif" >20</text>
<text x="420.20" y="715.40" font-size="9.9" font-weight="normal" text-anchor="middle" fill="#3a3a3a" font-family="'Liberation Sans', Arial, sans-serif" >40</text>
<text x="453.80" y="715.40" font-size="9.9" font-weight="normal" text-anchor="middle" fill="#3a3a3a" font-family="'Liberation Sans', Arial, sans-serif" >60</text>
<text x="487.00" y="715.40" font-size="9.9" font-weight="normal" text-anchor="middle" fill="#3a3a3a" font-family="'Liberation Sans', Arial, sans-serif" >80</text>
<text x="520.60" y="715.40" font-size="9.9" font-weight="normal" text-anchor="middle" fill="#3a3a3a" font-family="'Liberation Sans', Arial, sans-serif" >100</text>
<text x="446.90" y="729.30" font-size="9.95" font-weight="bold" text-anchor="middle" fill="#222" font-family="'Liberation Sans', Arial, sans-serif" >% recoding events, hADAR2</text>
<text x="254.00" y="599.90" font-size="8.85" font-weight="bold" text-anchor="start" fill="#333" font-family="'Liberation Sans', Arial, sans-serif" >BLOSUM score</text>
<rect x="274.1" y="609.20" width="7.3" height="6.5" fill="#A45D3A"/>
<text x="292.20" y="615.80" font-size="10.6" font-weight="normal" text-anchor="middle" fill="#333" font-family="'Liberation Sans', Arial, sans-serif" >(+)</text>
<rect x="274.1" y="622.50" width="7.3" height="6.5" fill="#E05C6E"/>
<text x="292.20" y="629.10" font-size="10.6" font-weight="normal" text-anchor="middle" fill="#333" font-family="'Liberation Sans', Arial, sans-serif" >0</text>
<rect x="274.1" y="635.80" width="7.3" height="6.5" fill="#7DBD57"/>
<text x="292.20" y="642.40" font-size="10.6" font-weight="normal" text-anchor="middle" fill="#333" font-family="'Liberation Sans', Arial, sans-serif" >(-)</text>
</svg></body></html>
